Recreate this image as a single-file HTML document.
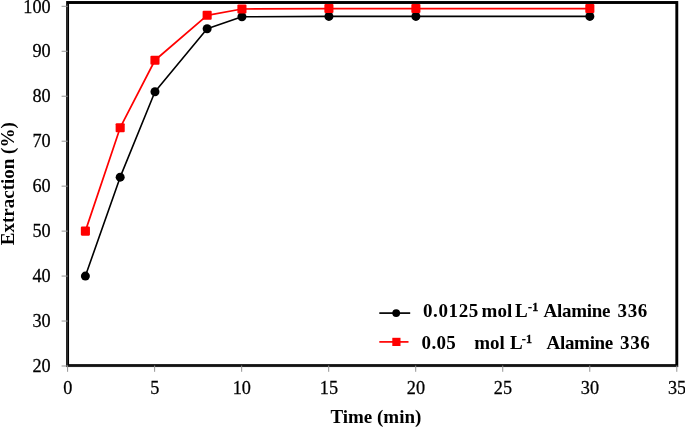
<!DOCTYPE html>
<html><head><meta charset="utf-8"><title>Extraction vs Time</title>
<style>
html,body{margin:0;padding:0;background:#fff;}
body{width:685px;height:427px;overflow:hidden;}
svg{display:block;}
text{font-family:"Liberation Serif",serif;font-size:19px;fill:#111;}
.n{fill:#000;stroke:#000;stroke-width:0.25px;}
.b{font-weight:bold;fill:#000;}
</style></head><body>
<svg width="685" height="427" viewBox="0 0 685 427">
<rect width="685" height="427" fill="#fff"/>
<polyline points="85.39,276.07 120.18,177.16 154.97,91.73 207.15,28.78 241.94,16.73 328.91,16.42 415.89,16.42 589.83,16.42" fill="none" stroke="#000" stroke-width="1.6" stroke-linejoin="round"/>
<circle cx="85.39" cy="276.07" r="4.5" fill="#000"/>
<circle cx="120.18" cy="177.16" r="4.5" fill="#000"/>
<circle cx="154.97" cy="91.73" r="4.5" fill="#000"/>
<circle cx="207.15" cy="28.78" r="4.5" fill="#000"/>
<circle cx="241.94" cy="16.73" r="4.5" fill="#000"/>
<circle cx="328.91" cy="16.42" r="4.5" fill="#000"/>
<circle cx="415.89" cy="16.42" r="4.5" fill="#000"/>
<circle cx="589.83" cy="16.42" r="4.5" fill="#000"/>
<polyline points="85.39,231.11 120.18,127.70 154.97,60.25 207.15,15.29 241.94,9.00 328.91,8.55 415.89,8.55 589.83,8.55" fill="none" stroke="#f00" stroke-width="1.7" stroke-linejoin="round"/>
<rect x="80.84" y="226.56" width="9.1" height="9.1" rx="1.1" fill="#f00"/>
<rect x="115.63" y="123.15" width="9.1" height="9.1" rx="1.1" fill="#f00"/>
<rect x="150.42" y="55.70" width="9.1" height="9.1" rx="1.1" fill="#f00"/>
<rect x="202.60" y="10.74" width="9.1" height="9.1" rx="1.1" fill="#f00"/>
<rect x="237.39" y="4.45" width="9.1" height="9.1" rx="1.1" fill="#f00"/>
<rect x="324.36" y="4.00" width="9.1" height="9.1" rx="1.1" fill="#f00"/>
<rect x="411.34" y="4.00" width="9.1" height="9.1" rx="1.1" fill="#f00"/>
<rect x="585.28" y="4.00" width="9.1" height="9.1" rx="1.1" fill="#f00"/>
<rect x="67.60" y="2.5" width="609.20" height="363.10" fill="none" stroke="#000" stroke-width="2.9"/>
<line x1="67.5" x2="67.5" y1="4" y2="367" stroke="#2a2a2a" stroke-width="1"/>
<line x1="66" x2="678" y1="366.3" y2="366.3" stroke="#242424" stroke-width="1.5"/>
<line x1="61.6" x2="67.8" y1="366.00" y2="366.00" stroke="#949494" stroke-width="1"/>
<line x1="61.6" x2="67.8" y1="321.04" y2="321.04" stroke="#949494" stroke-width="1"/>
<line x1="61.6" x2="67.8" y1="276.07" y2="276.07" stroke="#949494" stroke-width="1"/>
<line x1="61.6" x2="67.8" y1="231.11" y2="231.11" stroke="#949494" stroke-width="1"/>
<line x1="61.6" x2="67.8" y1="186.15" y2="186.15" stroke="#949494" stroke-width="1"/>
<line x1="61.6" x2="67.8" y1="141.19" y2="141.19" stroke="#949494" stroke-width="1"/>
<line x1="61.6" x2="67.8" y1="96.23" y2="96.23" stroke="#949494" stroke-width="1"/>
<line x1="61.6" x2="67.8" y1="51.26" y2="51.26" stroke="#949494" stroke-width="1"/>
<line x1="61.6" x2="67.8" y1="6.30" y2="6.30" stroke="#949494" stroke-width="1"/>
<line x1="67.60" x2="67.60" y1="365.6" y2="371.8" stroke="#949494" stroke-width="1"/>
<line x1="154.63" x2="154.63" y1="365.6" y2="371.8" stroke="#949494" stroke-width="1"/>
<line x1="241.66" x2="241.66" y1="365.6" y2="371.8" stroke="#949494" stroke-width="1"/>
<line x1="328.69" x2="328.69" y1="365.6" y2="371.8" stroke="#949494" stroke-width="1"/>
<line x1="415.71" x2="415.71" y1="365.6" y2="371.8" stroke="#949494" stroke-width="1"/>
<line x1="502.74" x2="502.74" y1="365.6" y2="371.8" stroke="#949494" stroke-width="1"/>
<line x1="589.77" x2="589.77" y1="365.6" y2="371.8" stroke="#949494" stroke-width="1"/>
<line x1="676.80" x2="676.80" y1="365.6" y2="371.8" stroke="#949494" stroke-width="1"/>
<text class="n" transform="translate(50.7,372.20) scale(0.96,1)" text-anchor="end">20</text>
<text class="n" transform="translate(50.7,327.24) scale(0.96,1)" text-anchor="end">30</text>
<text class="n" transform="translate(50.7,282.27) scale(0.96,1)" text-anchor="end">40</text>
<text class="n" transform="translate(50.7,237.31) scale(0.96,1)" text-anchor="end">50</text>
<text class="n" transform="translate(50.7,192.35) scale(0.96,1)" text-anchor="end">60</text>
<text class="n" transform="translate(50.7,147.39) scale(0.96,1)" text-anchor="end">70</text>
<text class="n" transform="translate(50.7,102.43) scale(0.96,1)" text-anchor="end">80</text>
<text class="n" transform="translate(50.7,57.46) scale(0.96,1)" text-anchor="end">90</text>
<text class="n" transform="translate(50.7,12.50) scale(0.96,1)" text-anchor="end">100</text>
<text class="n" transform="translate(67.80,393.6) scale(0.96,1)" text-anchor="middle">0</text>
<text class="n" transform="translate(154.83,393.6) scale(0.96,1)" text-anchor="middle">5</text>
<text class="n" transform="translate(241.86,393.6) scale(0.96,1)" text-anchor="middle">10</text>
<text class="n" transform="translate(328.89,393.6) scale(0.96,1)" text-anchor="middle">15</text>
<text class="n" transform="translate(415.91,393.6) scale(0.96,1)" text-anchor="middle">20</text>
<text class="n" transform="translate(502.94,393.6) scale(0.96,1)" text-anchor="middle">25</text>
<text class="n" transform="translate(589.97,393.6) scale(0.96,1)" text-anchor="middle">30</text>
<text class="n" transform="translate(677.00,393.6) scale(0.96,1)" text-anchor="middle">35</text>
<text class="b" transform="translate(14.2,245.2) rotate(-90)">Extraction (%)</text>
<text class="b" x="330.4" y="422.6">Time (min)</text>
<line x1="379.3" x2="410.2" y1="313.1" y2="313.1" stroke="#000" stroke-width="1.7"/>
<circle cx="396.2" cy="313.1" r="3.9" fill="#000"/>
<line x1="379.3" x2="408.5" y1="341.9" y2="341.9" stroke="#f00" stroke-width="1.7"/>
<rect x="392.3" y="337.8" width="8.2" height="8.2" fill="#f00"/>
<text class="b" y="317.4"><tspan x="423" letter-spacing="0.6">0.0125</tspan><tspan x="481.6">mol</tspan><tspan x="515.1">L</tspan><tspan x="527.9" dy="-6.5" font-size="12px" letter-spacing="0.3" stroke="#000" stroke-width="0.3">-1</tspan><tspan x="543.6" dy="6.5" letter-spacing="-0.3">Alamine</tspan><tspan x="617.6" letter-spacing="0.6">336</tspan></text>
<text class="b" y="349.3"><tspan x="421.6" letter-spacing="0.3">0.05</tspan><tspan x="474.2">mol</tspan><tspan x="509.9">L</tspan><tspan x="521.7" dy="-6.5" font-size="12px" letter-spacing="0.3" stroke="#000" stroke-width="0.3">-1</tspan><tspan x="546.5" dy="6.5" letter-spacing="-0.3">Alamine</tspan><tspan x="620.1" letter-spacing="0.6">336</tspan></text>
</svg></body></html>
